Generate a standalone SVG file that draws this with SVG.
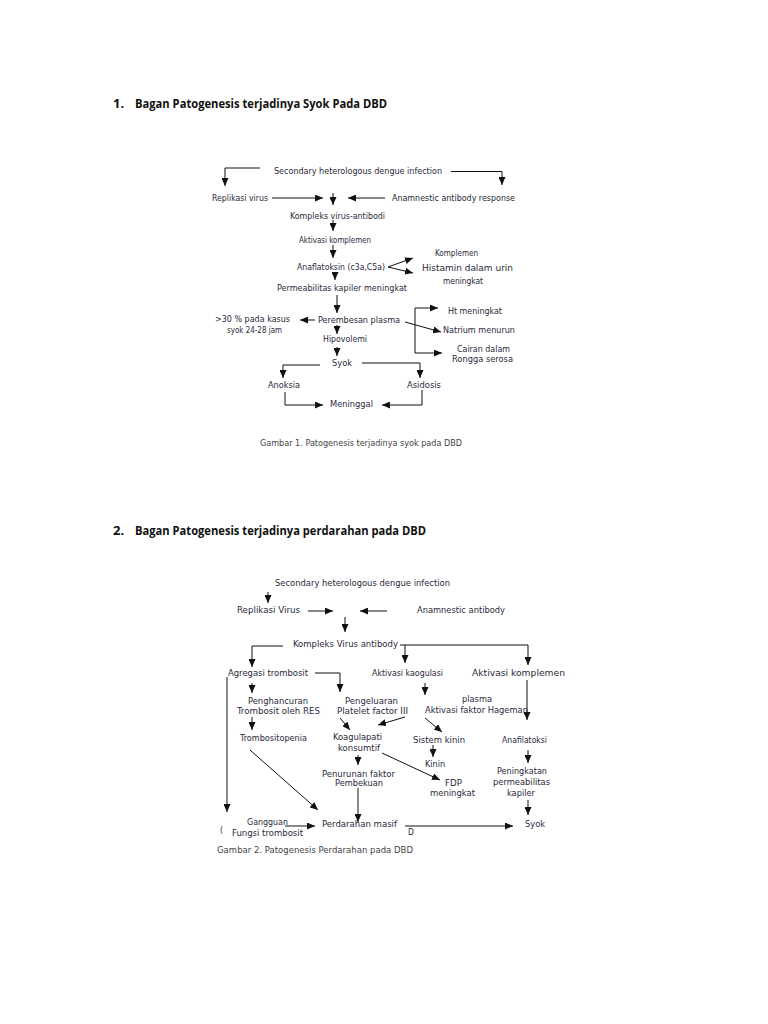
<svg xmlns="http://www.w3.org/2000/svg" width="768" height="1024" viewBox="0 0 768 1024">
<defs>
<marker id="ah" markerUnits="userSpaceOnUse" markerWidth="8" markerHeight="7" refX="8" refY="3.5" orient="auto">
<path d="M0,0 L8,3.5 L0,7 z" fill="#111"/>
</marker>
<style>
.h{font-family:"Open Sans","Liberation Sans",sans-serif;font-weight:bold;font-size:13px;fill:#111}
.t{font-family:"DejaVu Sans Condensed","DejaVu Sans","Liberation Sans",sans-serif;font-size:8.5px;fill:#2a2a3a}
.c{font-family:"DejaVu Sans Condensed","DejaVu Sans","Liberation Sans",sans-serif;font-size:8.5px;fill:#444}
.l{fill:none;stroke:#111;stroke-width:1}
.a{fill:none;stroke:#111;stroke-width:1;marker-end:url(#ah)}
</style>
</defs>
<rect width="768" height="1024" fill="#fff"/>

<g id="heading1"><text class="h" x="113" y="108">1.</text><text class="h" x="135" y="108" textLength="252" lengthAdjust="spacingAndGlyphs">Bagan Patogenesis terjadinya Syok Pada DBD</text></g>
<g id="heading2"><text class="h" x="113" y="535">2.</text><text class="h" x="135" y="535" textLength="291" lengthAdjust="spacingAndGlyphs">Bagan Patogenesis terjadinya perdarahan pada DBD</text></g>

<!-- Diagram 1 nodes -->
<g id="d1-secondary"><text class="t" x="274" y="174" textLength="168" lengthAdjust="spacingAndGlyphs">Secondary heterologous dengue infection</text></g>
<g id="d1-replikasi"><text class="t" x="212" y="201" textLength="56" lengthAdjust="spacingAndGlyphs">Replikasi virus</text></g>
<g id="d1-anamnestic"><text class="t" x="392" y="201" textLength="123" lengthAdjust="spacingAndGlyphs">Anamnestic antibody response</text></g>
<g id="d1-kompleks"><text class="t" x="290" y="219" textLength="95" lengthAdjust="spacingAndGlyphs">Kompleks virus-antibodi</text></g>
<g id="d1-aktivasi"><text class="t" x="299" y="243" textLength="72" lengthAdjust="spacingAndGlyphs">Aktivasi komplemen</text></g>
<g id="d1-anaflatoksin"><text class="t" x="297" y="270" textLength="88" lengthAdjust="spacingAndGlyphs">Anaflatoksin (c3a,C5a)</text></g>
<g id="d1-komplemen"><text class="t" x="435" y="256" textLength="43" lengthAdjust="spacingAndGlyphs">Komplemen</text></g>
<g id="d1-histamin"><text class="t" x="422" y="271" textLength="91" lengthAdjust="spacingAndGlyphs">Histamin dalam urin</text><text class="t" x="443" y="284" textLength="40" lengthAdjust="spacingAndGlyphs">meningkat</text></g>
<g id="d1-permeabilitas"><text class="t" x="277" y="291" textLength="130" lengthAdjust="spacingAndGlyphs">Permeabilitas kapiler meningkat</text></g>
<g id="d1-perembesan"><text class="t" x="318" y="323" textLength="82" lengthAdjust="spacingAndGlyphs">Perembesan plasma</text></g>
<g id="d1-30persen"><text class="t" x="215" y="322" textLength="75" lengthAdjust="spacingAndGlyphs">&gt;30 % pada kasus</text><text class="t" x="227" y="333" textLength="55" lengthAdjust="spacingAndGlyphs">syok 24-28 jam</text></g>
<g id="d1-hipovolemi"><text class="t" x="323" y="342" textLength="44" lengthAdjust="spacingAndGlyphs">Hipovolemi</text></g>
<g id="d1-syok"><text class="t" x="332" y="366" textLength="20" lengthAdjust="spacingAndGlyphs">Syok</text></g>
<g id="d1-anoksia"><text class="t" x="268" y="388" textLength="32" lengthAdjust="spacingAndGlyphs">Anoksia</text></g>
<g id="d1-asidosis"><text class="t" x="407" y="388" textLength="34" lengthAdjust="spacingAndGlyphs">Asidosis</text></g>
<g id="d1-meninggal"><text class="t" x="330" y="407" textLength="43" lengthAdjust="spacingAndGlyphs">Meninggal</text></g>
<g id="d1-ht"><text class="t" x="448" y="314" textLength="54" lengthAdjust="spacingAndGlyphs">Ht meningkat</text></g>
<g id="d1-natrium"><text class="t" x="443" y="333" textLength="72" lengthAdjust="spacingAndGlyphs">Natrium menurun</text></g>
<g id="d1-cairan"><text class="t" x="457" y="352" textLength="53" lengthAdjust="spacingAndGlyphs">Cairan dalam</text><text class="t" x="452" y="362" textLength="61" lengthAdjust="spacingAndGlyphs">Rongga serosa</text></g>
<g id="caption1"><text class="c" x="260" y="446" textLength="202" lengthAdjust="spacingAndGlyphs">Gambar 1. Patogenesis terjadinya syok pada DBD</text></g>

<!-- Diagram 2 nodes -->
<g id="d2-secondary"><text class="t" x="275" y="586" textLength="175" lengthAdjust="spacingAndGlyphs">Secondary heterologous dengue infection</text></g>
<g id="d2-replikasi"><text class="t" x="237" y="613" textLength="63" lengthAdjust="spacingAndGlyphs">Replikasi Virus</text></g>
<g id="d2-anamnestic"><text class="t" x="417" y="613" textLength="88" lengthAdjust="spacingAndGlyphs">Anamnestic antibody</text></g>
<g id="d2-kompleks"><text class="t" x="293" y="647" textLength="105" lengthAdjust="spacingAndGlyphs">Kompleks Virus antibody</text></g>
<g id="d2-agregasi"><text class="t" x="228" y="676" textLength="80" lengthAdjust="spacingAndGlyphs">Agregasi trombosit</text></g>
<g id="d2-koagulasi"><text class="t" x="372" y="676" textLength="71" lengthAdjust="spacingAndGlyphs">Aktivasi kaogulasi</text></g>
<g id="d2-komplemen"><text class="t" x="472" y="676" textLength="93" lengthAdjust="spacingAndGlyphs">Aktivasi komplemen</text></g>
<g id="d2-penghancuran"><text class="t" x="248" y="704" textLength="60" lengthAdjust="spacingAndGlyphs">Penghancuran</text><text class="t" x="237" y="714" textLength="83" lengthAdjust="spacingAndGlyphs">Trombosit oleh RES</text></g>
<g id="d2-pengeluaran"><text class="t" x="345" y="704" textLength="53" lengthAdjust="spacingAndGlyphs">Pengeluaran</text><text class="t" x="337" y="714" textLength="71" lengthAdjust="spacingAndGlyphs">Platelet factor III</text></g>
<g id="d2-hageman"><text class="t" x="462" y="702" textLength="30" lengthAdjust="spacingAndGlyphs">plasma</text><text class="t" x="425" y="713" textLength="103" lengthAdjust="spacingAndGlyphs">Aktivasi faktor Hageman</text></g>
<g id="d2-trombositopenia"><text class="t" x="240" y="741" textLength="67" lengthAdjust="spacingAndGlyphs">Trombositopenia</text></g>
<g id="d2-koagulapati"><text class="t" x="333" y="740" textLength="49" lengthAdjust="spacingAndGlyphs">Koagulapati</text><text class="t" x="338" y="751" textLength="42" lengthAdjust="spacingAndGlyphs">konsumtif</text></g>
<g id="d2-sistemkinin"><text class="t" x="413" y="743" textLength="52" lengthAdjust="spacingAndGlyphs">Sistem kinin</text></g>
<g id="d2-anafilatoksi"><text class="t" x="502" y="743" textLength="45" lengthAdjust="spacingAndGlyphs">Anafilatoksi</text></g>
<g id="d2-kinin"><text class="t" x="425" y="767" textLength="20" lengthAdjust="spacingAndGlyphs">Kinin</text></g>
<g id="d2-penurunan"><text class="t" x="322" y="777" textLength="73" lengthAdjust="spacingAndGlyphs">Penurunan faktor</text><text class="t" x="335" y="786" textLength="48" lengthAdjust="spacingAndGlyphs">Pembekuan</text></g>
<g id="d2-fdp"><text class="t" x="445" y="786" textLength="17" lengthAdjust="spacingAndGlyphs">FDP</text><text class="t" x="430" y="796" textLength="45" lengthAdjust="spacingAndGlyphs">meningkat</text></g>
<g id="d2-peningkatan"><text class="t" x="497" y="774" textLength="50" lengthAdjust="spacingAndGlyphs">Peningkatan</text><text class="t" x="493" y="785" textLength="57" lengthAdjust="spacingAndGlyphs">permeabilitas</text><text class="t" x="507" y="796" textLength="28" lengthAdjust="spacingAndGlyphs">kapiler</text></g>
<g id="d2-gangguan"><text class="t" x="247" y="825" textLength="41" lengthAdjust="spacingAndGlyphs">Gangguan</text><text class="t" x="232" y="836" textLength="71" lengthAdjust="spacingAndGlyphs">Fungsi trombosit</text><text class="t" x="220" y="833">(</text></g>
<g id="d2-perdarahan"><text class="t" x="322" y="827" textLength="75" lengthAdjust="spacingAndGlyphs">Perdarahan masif</text><text class="t" x="408" y="835">D</text></g>
<g id="d2-syok"><text class="t" x="525" y="827" textLength="20" lengthAdjust="spacingAndGlyphs">Syok</text></g>
<g id="caption2"><text class="c" x="217" y="853" textLength="196" lengthAdjust="spacingAndGlyphs">Gambar 2. Patogenesis Perdarahan pada DBD</text></g>

<g id="connectors">
<!-- diagram 1 -->
<path class="a" d="M260,168 H225 V186"/>
<path class="a" d="M451,171.5 H502 V185"/>
<path class="a" d="M272,198 H323"/>
<path class="a" d="M333,193 V205"/>
<path class="a" d="M385,198 H348"/>
<path class="a" d="M333,220 V231"/>
<path class="a" d="M333,245 V258"/>
<path class="a" d="M388,267 L413,258"/>
<path class="a" d="M388,267 L413,273"/>
<path class="a" d="M335,272 V280"/>
<path class="a" d="M337,295 V313"/>
<path class="a" d="M315,320 H300"/>
<path class="a" d="M337,325 V334"/>
<path class="a" d="M337,347 V356"/>
<path class="a" d="M320,365 H283 V378"/>
<path class="a" d="M362,363 H420 V378"/>
<path class="a" d="M285,392 V405 H323"/>
<path class="a" d="M422,390 V405 H382"/>
<path class="a" d="M415,353 V308 H438"/>
<path class="a" d="M415,353 H442"/>
<path class="a" d="M405,322 L441,332"/>
<!-- diagram 2 -->
<path class="a" d="M268,592 V603"/>
<path class="a" d="M308,611 H333"/>
<path class="a" d="M387,611 H360"/>
<path class="a" d="M345,617 V632"/>
<path class="a" d="M283,646 H252 V667"/>
<path class="a" d="M400,645 H528 V665"/>
<path class="a" d="M405,645 V663"/>
<path class="a" d="M315,673 H340 V692"/>
<path class="a" d="M227,677 V812"/>
<path class="a" d="M252,683 V693"/>
<path class="a" d="M252,717 V730"/>
<path class="a" d="M425,683 V695"/>
<path class="a" d="M527,680 V720"/>
<path class="a" d="M340,718 L350,730"/>
<path class="a" d="M405,717 L378,725"/>
<path class="a" d="M425,718 L442,732"/>
<path class="a" d="M433,745 V757"/>
<path class="a" d="M358,755 V765"/>
<path class="a" d="M382,753 L440,780"/>
<path class="a" d="M528,750 V763"/>
<path class="a" d="M358,788 V822"/>
<path class="a" d="M250,750 L318,810"/>
<path class="a" d="M285,826 H315"/>
<path class="a" d="M405,826 H513"/>
<path class="a" d="M528,800 V815"/>
</g>
</svg>
